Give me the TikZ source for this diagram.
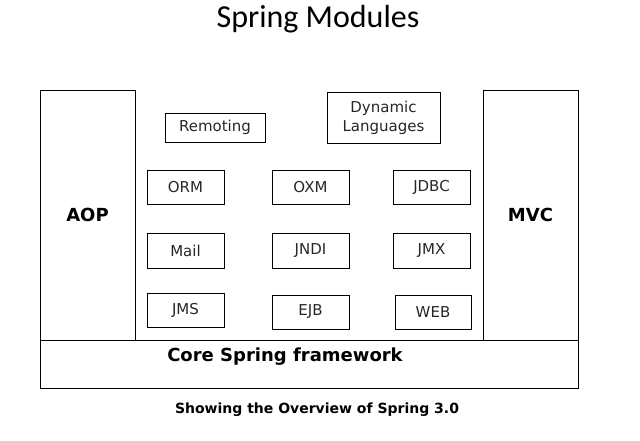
\documentclass[tikz,border=0pt]{standalone}
\usepackage{fontspec}
\setmainfont{DejaVu Sans}
\newfontfamily\titlefont{Carlito}
\begin{document}
\begin{tikzpicture}[x=1pt,y=-1pt,
  bx/.style={draw=black,line width=1pt,inner sep=0pt},
  mod/.style={font=\fontsize{15}{19}\selectfont,text=black!85}]
\useasboundingbox (0,0) rectangle (640,440);
\node (title) at (318,19) {\titlefont\fontsize{32}{36}\selectfont Spring Modules};
\draw[bx] (40,90) rectangle (135,340) node[pos=.5,font=\fontsize{18}{22}\selectfont\bfseries] (aop) {AOP};
\draw[bx] (483,90) rectangle (578,340) node[pos=.5,font=\fontsize{18}{22}\selectfont\bfseries] (mvc) {MVC};
\draw[bx] (40,340) rectangle (578,388);
\node[font=\fontsize{18}{22}\selectfont\bfseries] (core) at (285,357) {Core Spring framework};
\foreach \n/\t/\a/\b/\c/\d in {rem/Remoting/165/113/265/142, orm/ORM/147/170/224/204, oxm/OXM/272/170/349/204, jdbc/JDBC/393/170/470/204, mail/Mail/147/233/224/268, jndi/JNDI/272/233/349/268, jmx/JMX/393/233/470/268, jms/JMS/147/293/224/327, ejb/EJB/272/295/349/329, web/WEB/395/295/471/329}{
  \draw[bx] (\a,\b) rectangle (\c,\d) node[pos=.5,mod] (\n) {\t};
}
\draw[bx] (327,92) rectangle (440,143) node[pos=.5,mod,align=center] (dyn) {Dynamic\\Languages};
\node[font=\fontsize{14}{16}\selectfont\bfseries] (cap) at (317,410) {Showing the Overview of Spring 3.0};
\end{tikzpicture}
\end{document}
